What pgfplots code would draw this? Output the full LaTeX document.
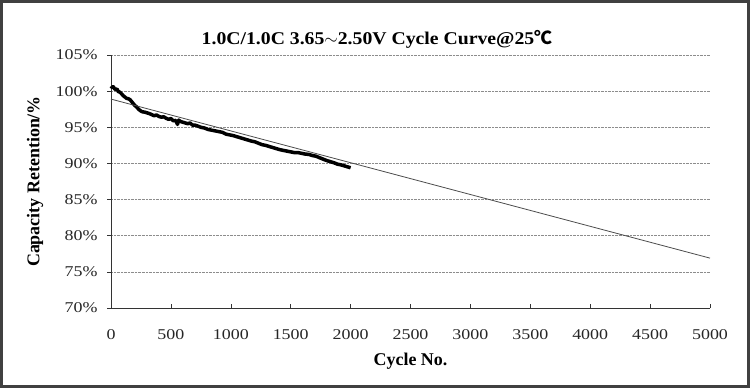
\documentclass[border=0pt]{standalone}
\usepackage{pgfplots}
\pgfplotsset{compat=1.18}
\usepackage{fontspec}
\setmainfont{Liberation Serif}
\newfontfamily\tickfont{Liberation Serif}[FakeStretch=1.2]
\newfontfamily\titlefont{Liberation Serif}[FakeStretch=1.1]
\newfontfamily\cjk{Noto Sans CJK SC}
\begin{document}
\begin{tikzpicture}[x=1bp,y=1bp]
\useasboundingbox (0,0) rectangle (750,388);
\draw[line width=2.5bp, black!75] (1.5,1.5) rectangle (748.5,386.5);
\begin{axis}[
  at={(111bp,80bp)}, anchor=south west,
  scale only axis, width=599bp, height=253bp,
  xmin=0, xmax=5000, ymin=70, ymax=105,
  axis x line=bottom, axis y line=left,
  axis line style={-, black!80, line width=0.8bp},
  xtick={0,500,...,5000},
  ytick={70,75,...,105},
  yticklabels={70\%,75\%,80\%,85\%,90\%,95\%,100\%,105\%},
  /pgf/number format/assume math mode=true,
  /pgf/number format/1000 sep={},
  xtick align=inside, ytick align=outside,
  major tick length=4bp,
  tick style={black!80, line width=0.6bp},
  ymajorgrids, grid style={densely dotted, black!45, line width=0.6bp},
  ticklabel style={font=\tickfont\fontsize{15}{17}\selectfont, text=black!85},
  yticklabel style={xshift=-6bp},
  xticklabel style={yshift=-18bp},
  xlabel={\textbf{Cycle No.}},
  ylabel={\textbf{Capacity Retention/\%}},
  label style={font=\fontsize{18}{20}\selectfont},
  xlabel style={at={(rel axis cs:0.5,0)}, anchor=center, yshift=-53bp},
  ylabel style={at={(rel axis cs:0,0.5)}, anchor=center, rotate=0, yshift=76bp},
  title={\textbf{1.0C/1.0C 3.65$\sim$2.50V Cycle Curve@25{\cjk\bfseries ℃}}},
  title style={font=\titlefont\fontsize{18}{20}\selectfont, at={(rel axis cs:0.444,1)}, anchor=center, yshift=10bp},
  clip=false,
]
\addplot[black, line width=3.5bp, line join=round] coordinates {
(0,100.7) (10,100.5) (20,100.6) (30,100.3) (40,100.25) (50,100.3) (60,99.95) (75,99.85)
(90,99.6) (100,99.4) (115,99.2) (130,99.0) (145,98.95) (160,98.8) (175,98.5) (190,98.2)
(200,98.0) (215,97.8) (230,97.5) (245,97.3) (260,97.15) (280,97.1) (300,97.0) (320,96.9)
(340,96.75) (360,96.6) (380,96.7) (400,96.5) (420,96.4) (440,96.45) (460,96.25) (480,96.1)
(500,96.2) (520,95.9) (540,95.95) (555,95.4) (565,96.0) (580,95.8) (600,95.7) (620,95.6)
(640,95.5) (660,95.6) (680,95.3) (700,95.3) (720,95.2) (750,95.0) (780,94.9) (810,94.7)
(840,94.6) (870,94.5) (900,94.4) (930,94.3) (960,94.05) (990,93.95) (1020,93.85) (1050,93.7)
(1080,93.55) (1110,93.4) (1140,93.25) (1170,93.1) (1200,93.0) (1230,92.8) (1260,92.6)
(1290,92.5) (1320,92.35) (1350,92.2) (1380,92.05) (1410,91.9) (1440,91.8) (1470,91.7)
(1500,91.6) (1530,91.5) (1560,91.5) (1590,91.4) (1620,91.3) (1650,91.25) (1680,91.1)
(1710,91.0) (1740,90.8) (1770,90.6) (1800,90.4) (1830,90.25) (1860,90.1) (1890,89.9)
(1920,89.8) (1950,89.65) (1980,89.5) (2000,89.4)
};
\addplot[black!70, line width=0.8bp] coordinates {(0,98.9) (5000,76.9)};
\end{axis}
\end{tikzpicture}
\end{document}
